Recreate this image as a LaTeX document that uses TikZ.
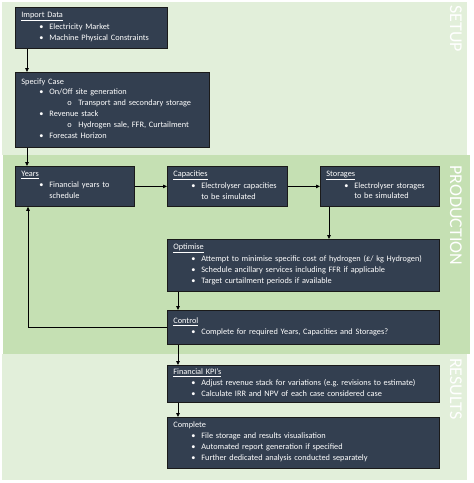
\documentclass[tikz,border=0pt]{standalone}
\usepackage{fontspec}
\setmainfont{Carlito}
\usetikzlibrary{positioning, calc, arrows.meta}
\definecolor{bgSetup}{HTML}{E2EFDA}
\definecolor{bgProd}{HTML}{C5E0B3}
\definecolor{bxFill}{HTML}{333F50}
\definecolor{bxEdge}{HTML}{1A1A1A}
\newcommand{\hd}[1]{\underline{#1}}
\newcommand{\bul}[1]{\hspace*{18pt}\makebox[10pt][l]{\textbullet}\begin{tabular}[t]{@{}l@{}}#1\end{tabular}}
\newcommand{\subbul}[1]{\hspace*{46pt}\makebox[11pt][l]{o}#1}
\tikzset{
	stage/.style={draw=bxEdge, fill=bxFill, line width=0.8pt, text=white,
		anchor=north west, align=left, inner xsep=6pt, inner ysep=2pt,
		font=\fontsize{8.3}{10.8}\selectfont},
	bandlabel/.style={text=white, rotate=-90, anchor=west, inner sep=0pt,
		font=\fontsize{18}{18}\selectfont},
	flow/.style={-{Triangle[length=4pt,width=3.5pt]}, line width=0.8pt, draw=black}
}

\begin{document}
\begin{tikzpicture}[x=1pt, y=-1pt]
	\useasboundingbox (0,0) rectangle (474,483);
	\fill[white] (0,0) rectangle (474,483);
	\fill[bgSetup] (2,2) rectangle (467,155);
	\fill[bgProd] (3,155) rectangle (470,354);
	\fill[bgSetup] (2,354) rectangle (467,480);

	\node[bandlabel] (lsetup) at (456,5) {SETUP};
	\node[bandlabel] (lprod) at (456,165) {PRODUCTION};
	\node[bandlabel] (lres) at (456,358) {RESULTS};

	\node[stage, text width=140pt, minimum height=41pt] (imp) at (15,7)
		{\hd{Import Data}\\
		\bul{Electricity Market}\\
		\bul{Machine Physical Constraints}};
	\node[stage, text width=182pt, minimum height=75pt] (spec) at (15,72)
		{Specify Case\\
		\bul{On/Off site generation}\\
		\subbul{Transport and secondary storage}\\
		\bul{Revenue stack}\\
		\subbul{Hydrogen sale, FFR, Curtailment}\\
		\bul{Forecast Horizon}};
	\node[stage, text width=107pt, minimum height=40pt] (years) at (15,166)
		{\hd{Years}\\
		\bul{Financial years to\\schedule}};
	\node[stage, text width=108pt, minimum height=40pt] (cap) at (167,166)
		{\hd{Capacities}\\
		\bul{Electrolyser capacities\\to be simulated}};
	\node[stage, text width=107pt, minimum height=40pt] (stor) at (320,166)
		{\hd{Storages}\\
		\bul{Electrolyser storages\\to be simulated}};
	\node[stage, text width=260pt, minimum height=52pt] (opt) at (167,239)
		{\hd{Optimise}\\
		\bul{Attempt to minimise specific cost of hydrogen (£/ kg Hydrogen)}\\
		\bul{Schedule ancillary services including FFR if applicable}\\
		\bul{Target curtailment periods if available}};
	\node[stage, text width=260pt, minimum height=34pt] (ctrl) at (167,310)
		{\hd{Control}\\
		\bul{Complete for required Years, Capacities and Storages?}};
	\node[stage, text width=260pt, minimum height=37pt] (kpi) at (167,365)
		{\hd{Financial KPI's}\\
		\bul{Adjust revenue stack for variations (e.g.\ revisions to estimate)}\\
		\bul{Calculate IRR and NPV of each case considered case}};
	\node[stage, text width=260pt, minimum height=51pt] (done) at (167,417)
		{Complete\\
		\bul{File storage and results visualisation}\\
		\bul{Automated report generation if specified}\\
		\bul{Further dedicated analysis conducted separately}};

	\draw[flow] ([xshift=12pt]imp.south west) -- ([xshift=12pt]spec.north west);
	\draw[flow] ([xshift=12pt]spec.south west) -- ([xshift=12pt]years.north west);
	\draw[flow] (years.east) -- (cap.west);
	\draw[flow] (cap.east) -- (stor.west);
	\draw[flow] ([xshift=9pt]stor.south west) -- ([xshift=9pt]stor.south west |- opt.north);
	\draw[flow] ([xshift=11pt]opt.south west) -- ([xshift=11pt]ctrl.north west);
	\draw[flow] (ctrl.west) -- ([xshift=13pt]years.south west |- ctrl.west) -- ([xshift=13pt]years.south west);
	\draw[flow] ([xshift=11pt]ctrl.south west) -- ([xshift=11pt]kpi.north west);
	\draw[flow] ([xshift=11pt]kpi.south west) -- ([xshift=11pt]done.north west);
\end{tikzpicture}
\end{document}
